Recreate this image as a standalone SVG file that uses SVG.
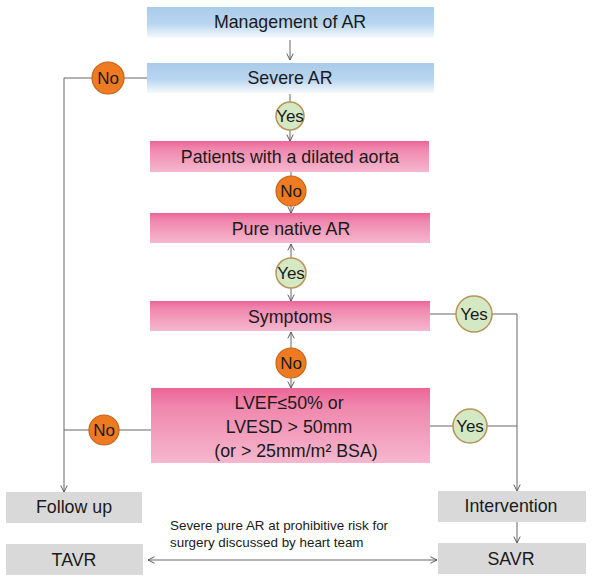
<svg xmlns="http://www.w3.org/2000/svg" width="596" height="588" viewBox="0 0 596 588">
<defs>
<linearGradient id="gBlue" x1="0" y1="0" x2="0" y2="1">
<stop offset="0" stop-color="#a9cbea"/>
<stop offset="0.55" stop-color="#b9d6f0"/>
<stop offset="1" stop-color="#f6fafd"/>
</linearGradient>
<linearGradient id="gPink" x1="0" y1="0" x2="0" y2="1">
<stop offset="0" stop-color="#ec6596"/>
<stop offset="0.25" stop-color="#f087ad"/>
<stop offset="1" stop-color="#f5b7ce"/>
</linearGradient>
<marker id="arr" viewBox="0 0 10 10" refX="9" refY="5" markerWidth="8" markerHeight="8" orient="auto-start-reverse" markerUnits="userSpaceOnUse">
<path d="M1,1 L9,5 L1,9" fill="none" stroke="#555" stroke-width="1.2"/>
</marker>
<style>
.blue{fill:url(#gBlue)}
.pink{fill:url(#gPink)}
.gray{fill:#d9d9d9}
.lbl{font-family:"Liberation Sans",Arial,sans-serif;font-size:17.8px;fill:#1a1a1a;text-anchor:middle}
.cl{font-family:"Liberation Sans",Arial,sans-serif;font-size:17px;fill:#1a1a1a;text-anchor:middle}
.note{font-family:"Liberation Sans",Arial,sans-serif;font-size:13.4px;fill:#1a1a1a}
.no{fill:#ee7b22;stroke:#c4631a;stroke-width:1.2}
.yes{fill:#d5e8c4;stroke:#b89458;stroke-width:1.5}
.ln{stroke:#666;stroke-width:1;fill:none}
.ar{stroke:#666;stroke-width:1;fill:none;marker-end:url(#arr)}
.ar2{stroke:#666;stroke-width:1;fill:none;marker-start:url(#arr);marker-end:url(#arr)}
</style>
</defs>

<g id="connectors">
<line class="ar" x1="290" y1="40" x2="290" y2="60"/>
<line class="ln" x1="147" y1="78" x2="124" y2="78"/>
<polyline class="ar" points="92,78 64,78 64,492"/>
<line class="ln" x1="290" y1="94" x2="290" y2="102"/>
<line class="ar" x1="290" y1="130" x2="290" y2="141"/>
<line class="ln" x1="291" y1="172" x2="291" y2="176"/>
<line class="ar" x1="291" y1="206" x2="291" y2="213"/>
<line class="ar" x1="291" y1="258" x2="291" y2="244"/>
<line class="ar" x1="291" y1="288" x2="291" y2="301"/>
<line class="ln" x1="430" y1="314" x2="456" y2="314"/>
<polyline class="ar" points="492,314 517,314 517,491"/>
<line class="ar" x1="291" y1="348" x2="291" y2="332"/>
<line class="ar" x1="291" y1="378" x2="291" y2="388"/>
<line class="ln" x1="151" y1="430" x2="119" y2="430"/>
<line class="ln" x1="89" y1="430" x2="64" y2="430"/>
<line class="ln" x1="430" y1="426" x2="453" y2="426"/>
<line class="ln" x1="487" y1="426" x2="517" y2="426"/>
<line class="ar" x1="517" y1="522" x2="517" y2="543"/>
<line class="ar2" x1="148" y1="560" x2="437" y2="560"/>
</g>

<g id="management">
<rect class="blue" x="147" y="7" width="287" height="31"/>
<text class="lbl" x="290" y="28">Management of AR</text>
</g>
<g id="severe-ar">
<rect class="blue" x="147" y="63" width="287" height="30"/>
<text class="lbl" x="290" y="84">Severe AR</text>
</g>
<g id="no1">
<circle class="no" cx="108" cy="78" r="16"/>
<text class="cl" x="108" y="84">No</text>
</g>
<g id="yes1">
<circle class="yes" cx="290" cy="116" r="14"/>
<text class="cl" x="290" y="122">Yes</text>
</g>
<g id="dilated-aorta">
<rect class="pink" x="150" y="141" width="279" height="31"/>
<text class="lbl" x="290" y="163">Patients with a dilated aorta</text>
</g>
<g id="no2">
<circle class="no" cx="291" cy="191" r="15"/>
<text class="cl" x="291" y="197">No</text>
</g>
<g id="pure-native">
<rect class="pink" x="150" y="213" width="280" height="30"/>
<text class="lbl" x="291" y="235">Pure native AR</text>
</g>
<g id="yes2">
<circle class="yes" cx="291" cy="273" r="15"/>
<text class="cl" x="291" y="279">Yes</text>
</g>
<g id="symptoms">
<rect class="pink" x="150" y="301" width="280" height="30"/>
<text class="lbl" x="290" y="323">Symptoms</text>
</g>
<g id="yes3">
<circle class="yes" cx="474" cy="314" r="18"/>
<text class="cl" x="474" y="320">Yes</text>
</g>
<g id="no3">
<circle class="no" cx="291" cy="363" r="15"/>
<text class="cl" x="291" y="369">No</text>
</g>
<g id="lvef">
<rect class="pink" x="151" y="388" width="279" height="75"/>
<text class="lbl" x="289" y="409">LVEF≤50% or</text>
<text class="lbl" x="289" y="433">LVESD &gt; 50mm</text>
<text class="lbl" x="296" y="457">(or &gt; 25mm/m² BSA)</text>
</g>
<g id="no4">
<circle class="no" cx="104" cy="430" r="15"/>
<text class="cl" x="104" y="436">No</text>
</g>
<g id="yes4">
<circle class="yes" cx="470" cy="426" r="17"/>
<text class="cl" x="470" y="432">Yes</text>
</g>
<g id="follow-up">
<rect class="gray" x="6" y="492" width="136" height="31"/>
<text class="lbl" x="74" y="513">Follow up</text>
</g>
<g id="intervention">
<rect class="gray" x="438" y="491" width="148" height="31"/>
<text class="lbl" x="511" y="512">Intervention</text>
</g>
<g id="tavr">
<rect class="gray" x="6" y="544" width="137" height="31"/>
<text class="lbl" x="74" y="566">TAVR</text>
</g>
<g id="savr">
<rect class="gray" x="438" y="543" width="148" height="31"/>
<text class="lbl" x="511" y="565">SAVR</text>
</g>
<g id="note">
<text class="note" x="170" y="530">Severe pure AR at prohibitive risk for</text>
<text class="note" x="170" y="547">surgery discussed by heart team</text>
</g>
</svg>
